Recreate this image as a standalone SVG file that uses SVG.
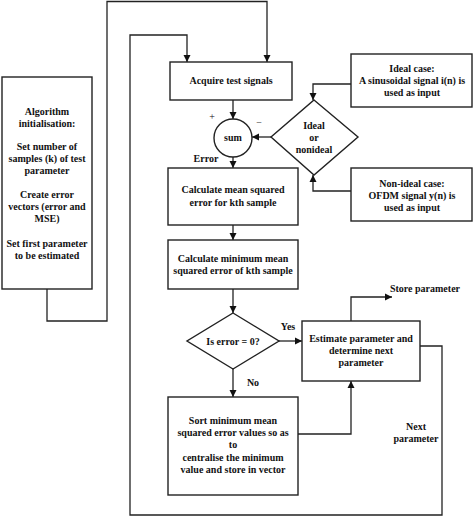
<svg xmlns="http://www.w3.org/2000/svg" width="474" height="517" viewBox="0 0 474 517">
<style>
.box{fill:#fff;stroke:#222;stroke-width:1.4}
.ln{fill:none;stroke:#222;stroke-width:1.3}
.arr{marker-end:url(#ah)}
text{font-family:"Liberation Serif","Times New Roman",serif;font-size:10px;font-weight:bold;fill:#111;text-anchor:middle}
</style>
<defs>
<marker id="ah" markerWidth="8" markerHeight="8" refX="7" refY="4" orient="auto" markerUnits="userSpaceOnUse">
<path d="M0,0.5 L7,4 L0,7.5 Z" fill="#111"/>
</marker>
</defs>
<rect width="474" height="517" fill="#fff"/>
<g id="connectors">
<polyline class="ln arr" points="47,289 47,321 107,321 107,1.5 267,1.5 267,62"/>
<polyline class="ln arr" points="420,346 442,346 442,515 130,515 130,35 187,35 187,62"/>
<line class="ln arr" x1="233" y1="100" x2="233" y2="119"/>
<line class="ln arr" x1="233" y1="157" x2="233" y2="168"/>
<line class="ln arr" x1="271" y1="137" x2="252" y2="137"/>
<polyline class="ln arr" points="351,84 313,84 313,100"/>
<polyline class="ln arr" points="351,191 313,191 313,175"/>
<line class="ln arr" x1="233" y1="225" x2="233" y2="240"/>
<line class="ln arr" x1="233" y1="289" x2="233" y2="313"/>
<line class="ln arr" x1="279" y1="341" x2="302" y2="341"/>
<line class="ln arr" x1="233" y1="369" x2="233" y2="397"/>
<polyline class="ln arr" points="351,321 351,297 392,297"/>
<polyline class="ln arr" points="298,434 351,434 351,381"/>
</g>
<g id="init">
<rect class="box" x="2" y="77" width="90" height="212"/>
<text x="47" y="115">Algorithm</text>
<text x="47" y="127">initialisation:</text>
<text x="47" y="150">Set number of</text>
<text x="47" y="162">samples (k) of test</text>
<text x="47" y="174">parameter</text>
<text x="47" y="198">Create error</text>
<text x="47" y="210">vectors (error and</text>
<text x="47" y="222">MSE)</text>
<text x="47" y="247">Set first parameter</text>
<text x="47" y="259">to be estimated</text>
</g>
<g id="acquire">
<rect class="box" x="170" y="62" width="122" height="38"/>
<text x="231" y="84">Acquire test signals</text>
</g>
<g id="sum">
<circle class="box" cx="233" cy="138" r="19"/>
<text x="233" y="141">sum</text>
<text x="212" y="120" style="font-weight:normal">+</text>
<text x="259" y="126" style="font-weight:normal">−</text>
<text x="206" y="162">Error</text>
</g>
<g id="ideal-dec">
<polygon class="box" points="314,100 358,137 314,175 271,137"/>
<text x="314" y="129">Ideal</text>
<text x="314" y="141">or</text>
<text x="314" y="153">nonideal</text>
</g>
<g id="ideal-case">
<rect class="box" x="351" y="54" width="121" height="53"/>
<text x="412" y="72">Ideal case:</text>
<text x="412" y="84">A sinusoidal signal i(n) is</text>
<text x="412" y="96">used as input</text>
</g>
<g id="nonideal-case">
<rect class="box" x="351" y="168" width="121" height="53"/>
<text x="412" y="187">Non-ideal case:</text>
<text x="412" y="199">OFDM signal y(n) is</text>
<text x="412" y="211">used as input</text>
</g>
<g id="mse">
<rect class="box" x="168" y="168" width="130" height="57"/>
<text x="233" y="193">Calculate mean squared</text>
<text x="233" y="206">error for kth sample</text>
</g>
<g id="minmse">
<rect class="box" x="168" y="240" width="130" height="49"/>
<text x="233" y="262">Calculate minimum mean</text>
<text x="233" y="274">squared error of kth sample</text>
</g>
<g id="errcheck">
<polygon class="box" points="233,313 279,341 233,369 187,341"/>
<text x="233" y="345">Is error = 0?</text>
<text x="288" y="330">Yes</text>
<text x="253" y="386">No</text>
</g>
<g id="estimate">
<rect class="box" x="302" y="321" width="118" height="60"/>
<text x="361" y="342">Estimate parameter and</text>
<text x="361" y="354">determine next</text>
<text x="361" y="366">parameter</text>
</g>
<g id="store">
<text x="425" y="292">Store parameter</text>
</g>
<g id="sort">
<rect class="box" x="168" y="397" width="130" height="98"/>
<text x="233" y="424">Sort minimum mean</text>
<text x="233" y="436">squared error values so as</text>
<text x="233" y="448">to</text>
<text x="233" y="461">centralise the minimum</text>
<text x="233" y="473">value and store in vector</text>
</g>
<g id="next">
<text x="416" y="430">Next</text>
<text x="416" y="442">parameter</text>
</g>
</svg>
